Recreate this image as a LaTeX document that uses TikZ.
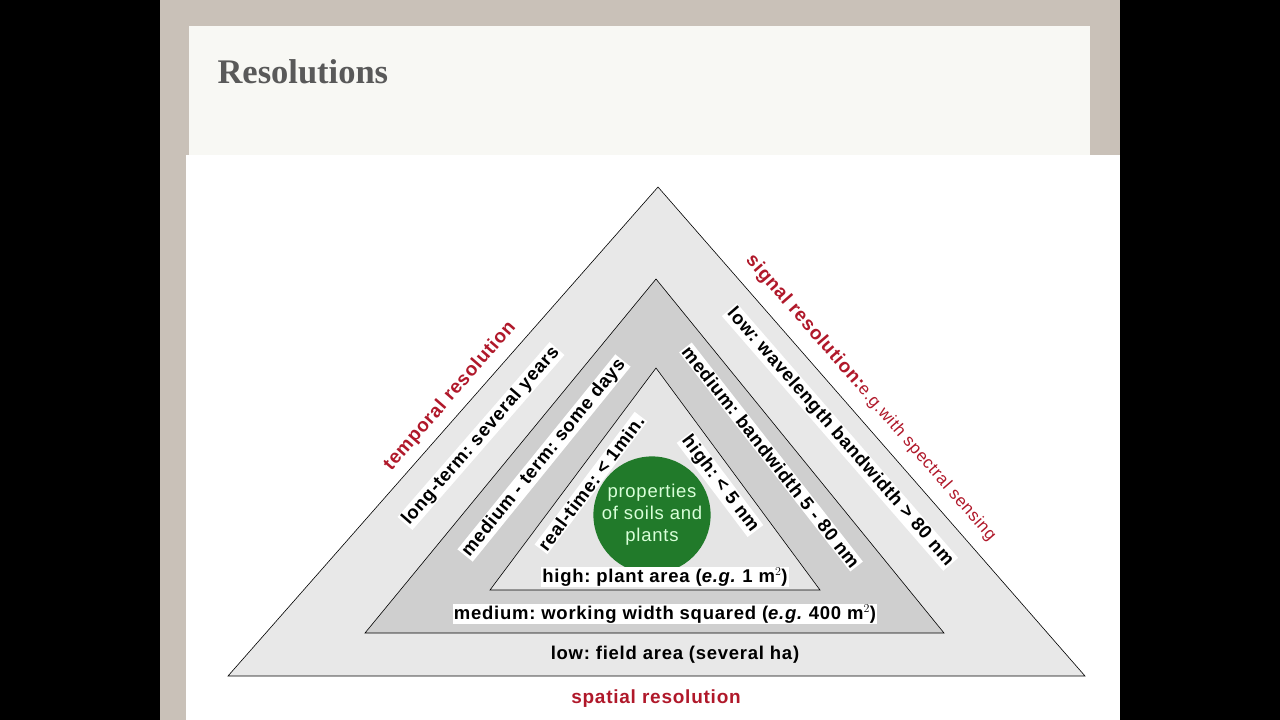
\documentclass[tikz,border=0pt]{standalone}
\usepackage{fontspec}
\setmainfont{Liberation Sans}[LetterSpace=4]
\newfontfamily\titlefont{Liberation Serif}
\definecolor{redlab}{HTML}{B0182A}
\definecolor{tan}{HTML}{C9C1B8}
\definecolor{gr}{HTML}{217A2A}
\definecolor{card}{HTML}{F8F8F4}
\begin{document}
\frenchspacing
\begin{tikzpicture}[x=1pt,y=-1pt,
  lab/.style={fill=white,inner sep=1.2pt,font=\fontsize{18.5}{20}\selectfont\bfseries},
  red/.style={text=redlab,font=\fontsize{19}{21}\selectfont\bfseries},
  tri/.style={draw=black,line width=0.6pt}]
\useasboundingbox (0,0) rectangle (1280,720);
\fill[black] (0,0) rectangle (1280,720);
\fill[tan] (160,0) rectangle (1120,720);
\fill[card] (189,26) rectangle (1090,155);
\fill[white] (186,155) rectangle (1120,720);
\node[anchor=west,text=black!65,font=\titlefont\fontsize{34.5}{37}\selectfont\bfseries] (title) at (214,72) {Resolutions};
\draw[tri,fill=black!9] (228,676) -- (658,187) -- (1085,676) -- cycle;
\draw[tri,fill=black!19] (365,633) -- (656,279) -- (944,633) -- cycle;
\draw[tri,fill=black!10] (490,590) -- (656,368) -- (820,590) -- cycle;
\node[circle,fill=gr,minimum size=116pt,inner sep=0pt,align=center,text=green!15,font=\fontsize{18.5}{22}\selectfont] (core) at (652,515) {properties\\of soils and\\plants};
\node[red,rotate=49] (tr) at (450,396) {temporal resolution};
\node[lab,rotate=49] (t1) at (481,436) {long-term: several years};
\node[lab,rotate=51] (t2) at (544,458) {medium - term: some days};
\node[lab,rotate=53] (t3) at (591,483) {real-time: < 1min.};
\node[rotate=-49,text=redlab,inner sep=0pt] (sr) at (871,398) {{\fontsize{19}{21}\selectfont\bfseries signal resolution:}{\fontsize{17}{19}\selectfont e.g.with spectral sensing}};
\node[lab,rotate=-49] (s1) at (840,437) {low: wavelength bandwidth > 80 nm};
\node[lab,rotate=-52] (s2) at (771,457) {medium: bandwidth 5 - 80 nm};
\node[lab,rotate=-53] (s3) at (720,484) {high: < 5 nm};
\node[lab] (p1) at (665,577) {high: plant area (\textit{e.g.} 1 m$^2$)};
\node[lab] (p2) at (665,614) {medium: working width squared (\textit{e.g.} 400 m$^2$)};
\node[lab,fill=none] (p3) at (675,655) {low: field area (several ha)};
\node[red] (spr) at (656,699) {spatial resolution};
\end{tikzpicture}
\end{document}
